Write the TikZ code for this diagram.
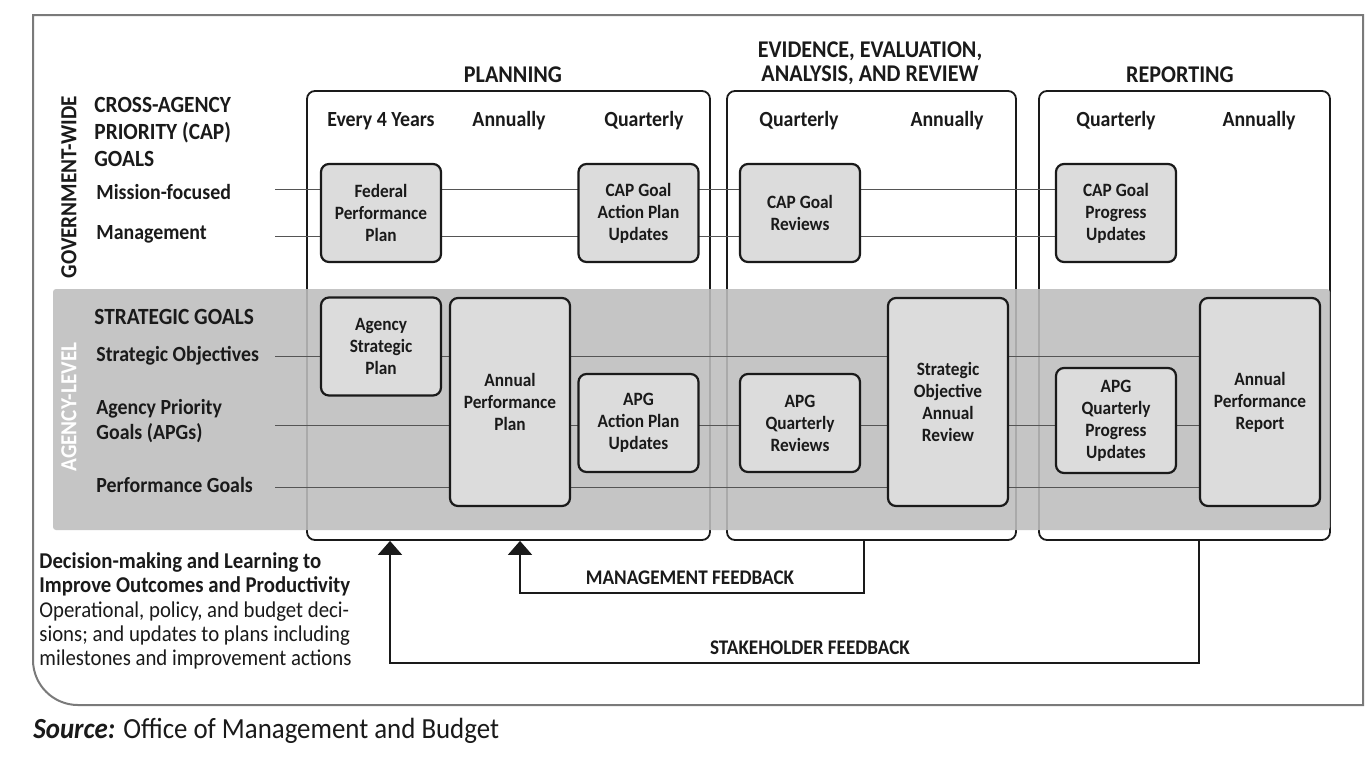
\documentclass[tikz,border=0pt]{standalone}
\usepackage{fontspec}
\setmainfont{Carlito}[FakeStretch=0.92]
\usetikzlibrary{arrows.meta}
\definecolor{txt}{HTML}{1A1A1A}
\definecolor{framec}{HTML}{7A7A7A}
\definecolor{bandc}{HTML}{BEBEBE}
\definecolor{boxc}{HTML}{DCDCDC}
\definecolor{connc}{HTML}{555555}
\pgfdeclarelayer{paper}
\pgfdeclarelayer{bg}
\pgfdeclarelayer{mid}
\pgfsetlayers{paper,bg,mid,main}
\tikzset{
  phase/.style={draw=txt, line width=0.9pt, rounded corners=4pt, inner sep=0pt},
  pbox/.style={draw=txt, line width=1.1pt, fill=boxc, rounded corners=4pt, inner sep=1pt,
    align=center, font=\fontsize{9.4}{11}\selectfont\bfseries, text=txt,
    minimum width=60pt},
  sbox/.style={pbox, minimum height=49pt},
  tbox/.style={pbox, minimum height=104pt},
  hd/.style={font=\fontsize{10.8}{12.2}\selectfont\bfseries, text=txt, inner sep=0pt, align=left},
  uhd/.style={font=\fontsize{11.6}{12.2}\selectfont\bfseries, text=txt, inner sep=0pt, align=left},
  ttl/.style={font=\fontsize{12}{12.2}\selectfont\bfseries, text=txt, inner sep=0pt, align=center},
  conn/.style={draw=connc, line width=0.5pt},
  fb/.style={draw=txt, line width=1pt},
  fbarrow/.style={fb, -{Triangle[width=12pt,length=7pt]}},
  fbl/.style={font=\fontsize{10.4}{11}\selectfont\bfseries, text=txt, inner sep=0pt},
  side/.style={font=\fontsize{11.5}{13}\selectfont\bfseries, inner sep=0pt, rotate=90},
}
\begin{document}
\begin{tikzpicture}[x=0.5pt,y=-0.5pt]
\begin{pgfonlayer}{paper}
\useasboundingbox[fill=white] (0,0) rectangle (1371,762);
\end{pgfonlayer}
% outer frame
\draw[framec, line width=1pt] (33,15) -- (33,660) arc[start angle=180, end angle=90, radius=45] -- (1363,705) -- (1363,15) -- cycle;

\begin{pgfonlayer}{bg}
% phase boxes
\node[phase, minimum width=201.5pt, minimum height=224.5pt] (plan) at (508.5,315.5) {};
\node[phase, minimum width=144.5pt, minimum height=224.5pt] (ev) at (871.5,315.5) {};
\node[phase, minimum width=145.5pt, minimum height=224.5pt] (rep) at (1184.5,315.5) {};
% agency band
\fill[bandc, fill opacity=0.88, rounded corners=1.5pt] (53,289) rectangle (1330,530);
\end{pgfonlayer}

% phase titles
\node[ttl] (tplan) at (513,75) {PLANNING};
\node[ttl] (tev) at (870,63) {EVIDENCE, EVALUATION,\\ANALYSIS, AND REVIEW};
\node[ttl] (trep) at (1180,75) {REPORTING};

% column headers
\node[hd] (h1) at (381,121) {Every 4 Years};
\node[hd] (h2) at (509,121) {Annually};
\node[hd] (h3) at (644,121) {Quarterly};
\node[hd] (h4) at (799,121) {Quarterly};
\node[hd] (h5) at (947,121) {Annually};
\node[hd] (h6) at (1116,121) {Quarterly};
\node[hd] (h7) at (1259,121) {Annually};

% side labels
\node[side, text=txt] (gw) at (69,187) {GOVERNMENT-WIDE};
\node[side, text=white] (al) at (69,407) {AGENCY-LEVEL};

% row labels
\node[uhd, anchor=west] (cap) at (94,132) {CROSS-AGENCY\\[1.2pt]PRIORITY (CAP)\\[1.2pt]GOALS};
\node[hd, anchor=west] (lmf) at (96,192) {Mission-focused};
\node[hd, anchor=west] (lmg) at (96,234) {Management};
\node[uhd, anchor=west] (lsg) at (94,317) {STRATEGIC GOALS};
\node[hd, anchor=west] (lso) at (96,356) {Strategic Objectives};
\node[hd, anchor=west] (lapg) at (96,421) {Agency Priority\\Goals (APGs)};
\node[hd, anchor=west] (lpg) at (96,485) {Performance Goals};

% line start coordinates
\coordinate (cmf) at (275,189);
\coordinate (cmg) at (275,236);
\coordinate (cso) at (275,356);
\coordinate (capg) at (275,425);
\coordinate (cpg) at (275,487);

% boxes
\node[sbox] (fpp) at (381,213) {Federal\\Performance\\Plan};
\node[sbox] (capau) at (638.5,213) {CAP Goal\\Action Plan\\Updates};
\node[sbox] (caprev) at (800,213) {CAP Goal\\Reviews};
\node[sbox] (cappu) at (1116,213) {CAP Goal\\Progress\\Updates};
\node[sbox] (asp) at (381,346.5) {Agency\\Strategic\\Plan};
\node[tbox] (app) at (510,402) {Annual\\Performance\\Plan};
\node[sbox] (apgau) at (638.5,423) {APG\\Action Plan\\Updates};
\node[sbox] (apgqr) at (800,423) {APG\\Quarterly\\Reviews};
\node[tbox] (soar) at (948,402) {Strategic\\Objective\\Annual\\Review};
\node[pbox, minimum height=52.5pt] (apgqpu) at (1116,420.5) {APG\\Quarterly\\Progress\\Updates};
\node[tbox] (apr) at (1260,402) {Annual\\Performance\\Report};

% connectors (behind boxes)
\begin{pgfonlayer}{mid}
\draw[conn] (cmf) -- (cmf -| cappu.west);
\draw[conn] (cmg) -- (cmg -| cappu.west);
\draw[conn] (cso) -- (cso -| apr.west);
\draw[conn] (capg) -- (capg -| apr.west);
\draw[conn] (cpg) -- (cpg -| apr.west);
\end{pgfonlayer}

% feedback arrows
\coordinate (shb) at (390,663);
\coordinate (mgr) at (864,540);
\coordinate (mgb) at (520,593);
\draw[fbarrow] (apr.west |- rep.south) |- (shb) -- (plan.south -| shb);
\draw[fbarrow] (mgr) |- (mgb) -- (plan.south -| mgb);
\node[fbl] (lmgf) at (690,578) {MANAGEMENT FEEDBACK};
\node[fbl] (lshf) at (810,648) {STAKEHOLDER FEEDBACK};

% bottom-left text
\node[anchor=north west, inner sep=0pt, align=left, text=txt,
  font=\fontsize{11.3}{12.2}\selectfont] (dm) at (39,552)
  {\bfseries Decision-making and Learning to\\
   \bfseries Improve Outcomes and Productivity\\
   Operational, policy, and budget deci-\\
   sions; and updates to plans including\\
   milestones and improvement actions};

% source
\node[anchor=west, inner sep=0pt, text=txt, font=\fontsize{14.6}{16}\selectfont] (src) at (33,731)
  {\textbf{\itshape Source:} Office of Management and Budget};
\end{tikzpicture}
\end{document}
